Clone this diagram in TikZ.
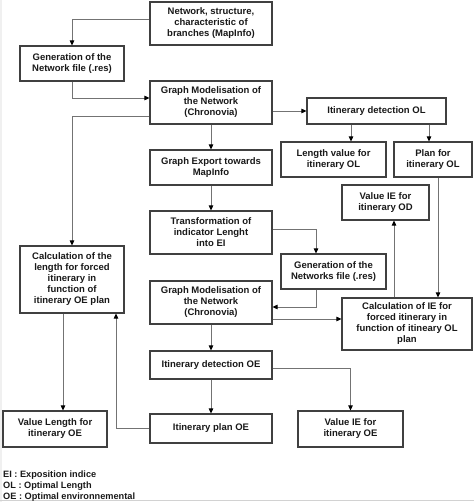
\documentclass[tikz,border=0pt]{standalone}
\usepackage{fontspec}
\setmainfont{Liberation Sans}
\usetikzlibrary{arrows.meta,calc}
\definecolor{boxc}{gray}{0.25}
\definecolor{linec}{gray}{0.45}
\tikzset{
  box/.style={draw=boxc, line width=1.1pt, fill=white, align=center, inner sep=1pt,
    font=\fontsize{9.5}{11}\selectfont\bfseries, text=black!90},
  conn/.style={draw=linec, line width=0.8pt, -{Triangle[length=5pt,width=4.5pt,color=black]}},
  legend/.style={align=left, inner sep=0pt, font=\fontsize{9.2}{11}\selectfont\bfseries, text=black!90}
}
\begin{document}
\begin{tikzpicture}[x=1pt,y=-1pt]
\useasboundingbox (0,0) rectangle (474,502);
\fill[gray!12] (0,0) rectangle (2,502);
\draw[gray!35, line width=0.8pt] (0,500.5) -- (474,500.5);
% boxes
\node[box, minimum width=122pt, minimum height=43pt] (n1) at (211,23.5) {Network, structure,\\characteristic of\\branches (MapInfo)};
\node[box, minimum width=104pt, minimum height=35pt] (gen1) at (72,63.5) {Generation of the\\Network file (.res)};
\node[box, minimum width=122pt, minimum height=43pt] (gm1) at (211,102.5) {Graph Modelisation of\\the Network\\(Chronovia)};
\node[box, minimum width=139pt, minimum height=26pt] (detOL) at (376.5,111) {Itinerary detection OL};
\node[box, minimum width=105pt, minimum height=35pt] (lenOL) at (333.5,159.5) {Length value for\\itinerary OL};
\node[box, minimum width=78pt, minimum height=35pt] (planOL) at (433,159.5) {Plan for\\itinerary OL};
\node[box, minimum width=122pt, minimum height=35pt] (exp) at (211,167.5) {Graph Export towards\\MapInfo};
\node[box, minimum width=122pt, minimum height=43pt] (trans) at (211,232.5) {Transformation of\\indicator Lenght\\into EI};
\node[box, minimum width=104pt, minimum height=67pt] (calcL) at (72,279.5) {Calculation of the\\length for forced\\itinerary in\\function of\\itinerary OE plan};
\node[box, minimum width=87pt, minimum height=35pt] (valOD) at (385.5,202.5) {Value IE for\\itinerary OD};
\node[box, minimum width=105pt, minimum height=35pt] (gen2) at (333.5,271.5) {Generation of the\\Networks file (.res)};
\node[box, minimum width=122pt, minimum height=43pt] (gm2) at (211,302.5) {Graph Modelisation of\\the Network\\(Chronovia)};
\node[box, minimum width=130pt, minimum height=52pt] (calcIE) at (407,324) {Calculation of IE for\\forced itinerary in\\function of itineary OL\\plan};
\node[box, minimum width=122pt, minimum height=28pt] (detOE) at (211,365) {Itinerary detection OE};
\node[box, minimum width=122pt, minimum height=29pt] (planOE) at (211,428.5) {Itinerary plan OE};
\node[box, minimum width=104pt, minimum height=36pt] (valLen) at (55,429) {Value Length for\\itinerary OE};
\node[box, minimum width=105pt, minimum height=36pt] (valIEOE) at (350.5,429) {Value IE for\\itinerary OE};
% legend
\node[legend, anchor=north west] (leg) at (3,470.5) {EI : Exposition indice\\OL : Optimal Length\\OE : Optimal environnemental};
% helper coordinates
\coordinate (g2e) at ([yshift=-16.5pt]gm2.east);
% connectors
\draw[conn] ([yshift=4.5pt]n1.west) -| (gen1.north);
\draw[conn] (gen1.south) |- ([yshift=4.5pt]gm1.west);
\draw[conn] ([yshift=-13.5pt]gm1.west) -| (calcL.north);
\draw[conn] (gm1.east |- detOL.west) -- (detOL.west);
\draw[conn] ([xshift=17.5pt]lenOL.north |- detOL.south) -- ([xshift=17.5pt]lenOL.north);
\draw[conn] ([xshift=-4pt]planOL.north |- detOL.south) -- ([xshift=-4pt]planOL.north);
\draw[conn] (gm1.south) -- (exp.north);
\draw[conn] (exp.south) -- (trans.north);
\draw[conn] ([yshift=3.5pt]trans.east) -| ([xshift=-17.5pt]gen2.north);
\draw[conn] ([xshift=-17.5pt]gen2.south) |- ([yshift=-4.5pt]gm2.east);
\draw[conn] (g2e) -- (calcIE.west |- g2e);
\draw[conn] ([xshift=5pt]planOL.south) -- ([xshift=5pt]planOL.south |- calcIE.north);
\draw[conn] ([xshift=8.5pt]valOD.south |- calcIE.north) -- ([xshift=8.5pt]valOD.south);
\draw[conn] (gm2.south) -- (detOE.north);
\draw[conn] (detOE.south) -- (planOE.north);
\draw[conn] (planOE.west) -| ([xshift=44pt]calcL.south);
\draw[conn] ([xshift=-9pt]calcL.south) -- ([xshift=-9pt]calcL.south |- valLen.north);
\draw[conn] ([yshift=-3pt]detOE.east) -| (valIEOE.north);
\end{tikzpicture}
\end{document}
